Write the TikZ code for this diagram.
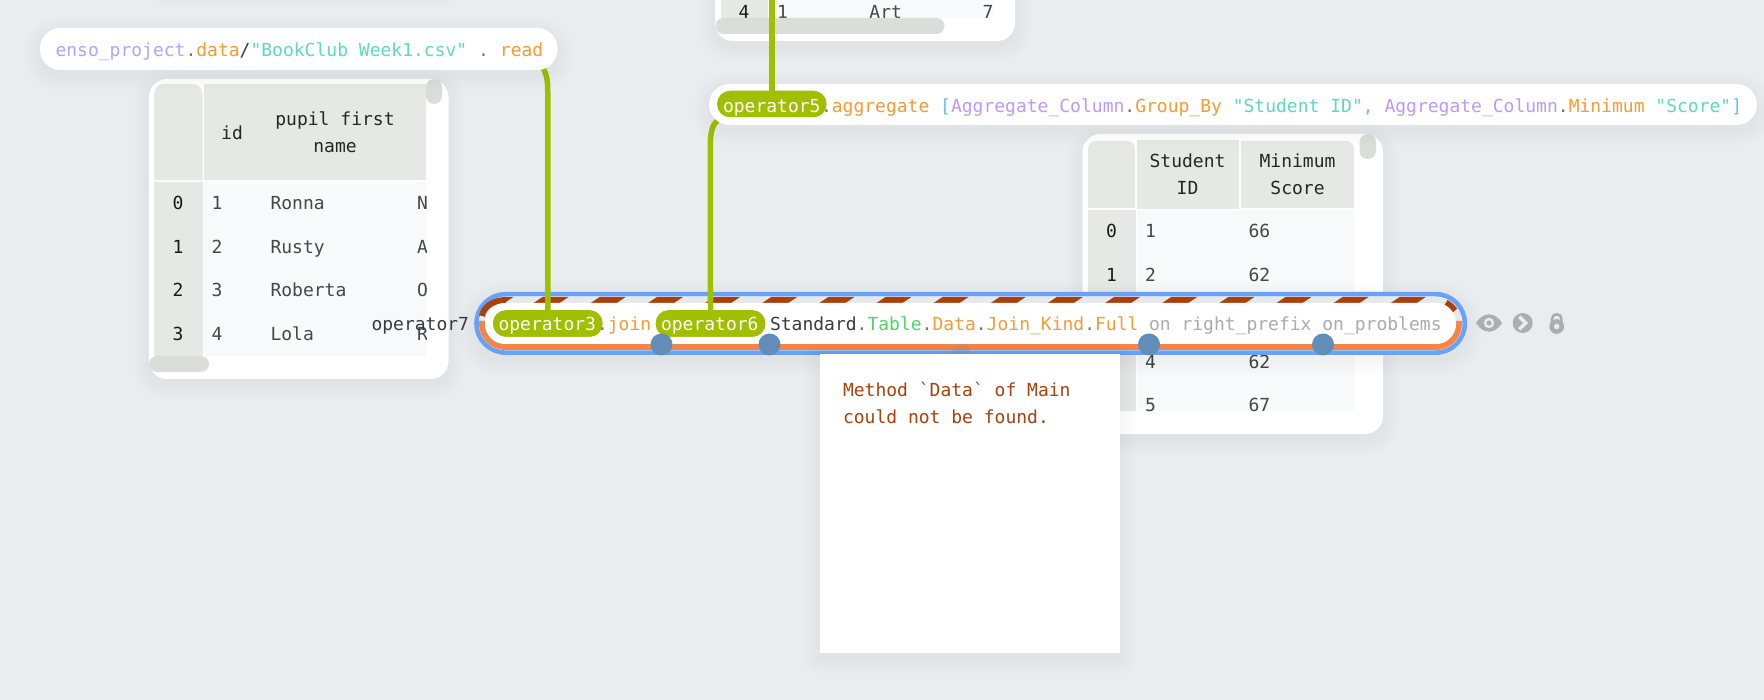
\documentclass[tikz,border=0pt]{standalone}
\usepackage{fontspec}
\newfontfamily\codefont{DejaVu Sans Mono}
\definecolor{bgc}{HTML}{EAEDF0}
\definecolor{greenw}{HTML}{A0BF00}
\definecolor{lav}{HTML}{A6A9FF}
\definecolor{orng}{HTML}{F89A35}
\definecolor{strc}{HTML}{5CD9C0}
\definecolor{dotc}{HTML}{777777}
\definecolor{purp}{HTML}{BB99FF}
\definecolor{brack}{HTML}{5CC5F0}
\definecolor{tabg}{HTML}{4FD665}
\definecolor{dkc}{HTML}{3A3A45}
\definecolor{argc}{HTML}{ABABAB}
\definecolor{hdr}{HTML}{E6E8E6}
\definecolor{bodyc}{HTML}{F7F9FA}
\definecolor{scrl}{HTML}{DBDDDB}
\definecolor{bluer}{HTML}{68A1F6}
\definecolor{orgr}{HTML}{F58447}
\definecolor{brn}{HTML}{AB400C}
\definecolor{rimc}{HTML}{E6E8EA}
\definecolor{port}{HTML}{628DB9}
\definecolor{icon}{HTML}{ABADAE}
\newcommand{\softshadow}[5]{%
  \foreach \i in {1,...,9}{%
    \fill[black,opacity=.0045,rounded corners={#5+\i*1.5}]
      ({#1-\i*1.8},{#2-\i*1.8+5}) rectangle ({#3+\i*1.8},{#4+\i*1.8+5});
  }}
\tikzset{
  x=1pt,y=-1pt,
  codetext/.style={inner sep=0pt,outer sep=0pt,font=\codefont\fontsize{18}{27}\selectfont},
  lab/.style={codetext,anchor=base west},
  cen/.style={codetext,anchor=base},
  body/.style={text=black!72},
  ind/.style={text=black!90},
  hd/.style={text=black!85,align=center},
  pill/.style={fill=white,rounded corners=20.5pt,inner sep=0pt,outer sep=0pt},
  oppill/.style={fill=greenw,rounded corners=13pt,inner sep=0pt,outer sep=0pt,minimum height=26.5pt,minimum width=109.5pt},
  wire/.style={draw=greenw,line width=5.5pt},
  portdot/.style={circle,fill=port,inner sep=0pt,minimum size=22pt},
}
\begin{document}
\begin{tikzpicture}
\useasboundingbox (0,0) rectangle (1764,700);
\fill[bgc] (0,0) rectangle (1764,700);
% shadow of the table above the frame
\softshadow{160}{-50}{448}{-12}{16}

% top table
\softshadow{715}{-50}{1015}{41}{18}
\fill[white,rounded corners=18pt] (715,-40) rectangle (1015,41);
\fill[hdr] (720.5,-5) rectangle (768,18);
\fill[bodyc] (770,-5) rectangle (992.7,18);
\begin{scope}
\clip (715,-5) rectangle (993,18);
\node[cen,ind] (t3i) at (744,18.3) {4};
\node[cen,body] (t3a) at (782.5,18.3) {1};
\node[cen,body] (t3b) at (885.7,18.3) {Art};
\node[cen,body] (t3c) at (988,18.3) {7};
\end{scope}
\fill[scrl,rounded corners=8pt] (715.5,18) rectangle (944.5,34);

% left table
\softshadow{149}{79}{448.5}{379}{18}
\fill[white,rounded corners=18pt] (149,79) rectangle (448.5,379);
\fill[hdr] (154,180.5) [rounded corners=10pt] -- (154,84) -- (202.5,84) [sharp corners] -- (202.5,180.5) -- cycle;
\fill[hdr] (204,84) rectangle (426,180.5);
\fill[hdr] (154,182) rectangle (203,356);
\fill[bodyc] (204,182) rectangle (426,356);
\node[cen,hd] (t1h1) at (232,139.5) {id};
\node[cen,hd] (t1h2) at (335,126) {pupil first};
\node[cen,hd] (t1h3) at (335,153) {name};
\node[cen,ind] (t1i0) at (178,210) {0};
\node[cen,ind] (t1i1) at (178,254) {1};
\node[cen,ind] (t1i2) at (178,297) {2};
\node[cen,ind] (t1i3) at (178,341) {3};
\node[lab,body] (t1a0) at (211.5,210) {1};
\node[lab,body] (t1a1) at (211.5,254) {2};
\node[lab,body] (t1a2) at (211.5,297) {3};
\node[lab,body] (t1a3) at (211.5,341) {4};
\node[lab,body] (t1b0) at (270.5,210) {Ronna};
\node[lab,body] (t1b1) at (270.5,254) {Rusty};
\node[lab,body] (t1b2) at (270.5,297) {Roberta};
\node[lab,body] (t1b3) at (270.5,341) {Lola};
\begin{scope}
\clip (204,182) rectangle (426,356);
\node[lab,body] (t1c0) at (417,210) {N};
\node[lab,body] (t1c1) at (417,254) {A};
\node[lab,body] (t1c2) at (417,297) {O};
\node[lab,body] (t1c3) at (417,341) {R};
\end{scope}
\fill[scrl,rounded corners=8pt] (426,79) rectangle (442,104);
\fill[scrl,rounded corners=8pt] (149,356) rectangle (209,372);

% right table
\softshadow{1082.5}{134}{1383}{434}{18}
\fill[white,rounded corners=18pt] (1082.5,134) rectangle (1383,434);
\fill[hdr] (1088,208) [rounded corners=8pt] -- (1088,141) -- (1135,141) [sharp corners] -- (1135,208) -- cycle;
\fill[hdr] (1137,140) rectangle (1239,209);
\fill[hdr] (1241,208) [sharp corners] -- (1241,141) [rounded corners=8pt] -- (1354,141) [sharp corners] -- (1354,208) -- cycle;
\fill[hdr] (1088,210) rectangle (1136,411);
\fill[bodyc] (1137,210) rectangle (1354,411);
\node[cen,hd] (t2h1) at (1187.5,167.5) {Student};
\node[cen,hd] (t2h2) at (1187.5,194.5) {ID};
\node[cen,hd] (t2h3) at (1297.5,167.5) {Minimum};
\node[cen,hd] (t2h4) at (1297.5,194.5) {Score};
\node[cen,ind] (t2i0) at (1111.5,238) {0};
\node[cen,ind] (t2i1) at (1111.5,281.5) {1};
\node[lab,body] (t2a0) at (1145,238) {1};
\node[lab,body] (t2a1) at (1145,281.5) {2};
\node[lab,body] (t2b0) at (1248.5,238) {66};
\node[lab,body] (t2b1) at (1248.5,281.5) {62};
\node[lab,body] (t2a4) at (1145,368.5) {4};
\node[lab,body] (t2b4) at (1248.5,368.5) {62};
\begin{scope}
\clip (1137,210) rectangle (1354,411);
\node[lab,body] (t2a5) at (1145,411.5) {5};
\node[lab,body] (t2b5) at (1248.5,411.5) {67};
\end{scope}
\fill[scrl,rounded corners=8pt] (1359.5,134) rectangle (1376,159);

% selected node frame
\softshadow{474}{292}{1467}{355}{30}
\fill[white,rounded corners=29pt] (476.5,294) rectangle (1464.8,352.5);
\draw[bluer,line width=4.6pt,rounded corners=29pt] (476.5,294.2) rectangle (1464.8,352.6);
\draw[rimc,line width=6pt,rounded corners=23.5pt] (482,300) rectangle (1459,347);
\draw[orgr,line width=6pt,rounded corners=23.5pt] (482,321) -- (482,347) -- (1459,347) -- (1459,321);
\foreach \k in {0,...,15}{
  \fill[brn] ({533.6+57.14*\k},303) -- ({559.6+57.14*\k},303) -- ({568.6+57.14*\k},297) -- ({542.6+57.14*\k},297) -- cycle;
}
\draw[brn,line width=6pt] (482,316) .. controls (483.5,307) and (493,300) .. (506,300);
\fill[brn] (505,297) -- (513.5,297) -- (504,303) -- cycle;
\draw[brn,line width=6pt] (1446,302.6) .. controls (1449,304) and (1452,307) .. (1455,310.5);
\fill[white,rounded corners=20pt] (485,303) rectangle (1456,344);

% coordinates of free wire ends, nodes that the wires join
\node[oppill] (opthree) at (547.75,323.5) {};
\node[oppill] (opsix) at (710.5,323.5) {};
\node[oppill] (opfive) at (771.8,104) {};
\coordinate (csvout) at (543.5,69);
\coordinate (aggout) at (718,120);
\coordinate (topin) at (771.8,-5);

% wires under the pills
\draw[wire] (csvout) .. controls (546.5,74) and (547.75,80) .. (547.75,92) -- (opthree.north);
\draw[wire] (aggout) .. controls (712.5,124) and (710.3,132) .. (710.3,146) -- (opsix.north);

% pills
\softshadow{40}{28}{557.5}{70}{20}
\softshadow{709}{84}{1757}{125}{20}
\node[pill,minimum width=517.5pt,minimum height=42pt] (csv) at (298.75,49) {};
\node[pill,minimum width=1048pt,minimum height=41pt] (agg) at (1233,104.5) {};
\draw[wire] (topin) -- (opfive.north);

% operator pills
\node[oppill] at (opthree) {};
\node[oppill] at (opsix) {};
\node[oppill] at (opfive) {};

% code text
\node[lab] (csvtext) at (55.5,57) {\textcolor{lav}{enso\_project}\textcolor{dotc}{.}\textcolor{orng}{data}\textcolor{dkc}{/}\textcolor{strc}{"BookClub Week1.csv"} \textcolor{dotc}{.} \hspace{-3.5pt}\textcolor{orng}{read}};
\node[lab,text=white] (op5text) at (723,112.3) {operator5};
\node[lab] (aggtext) at (821,112.3) {\textcolor{dotc}{.}\textcolor{orng}{aggregate} \textcolor{brack}{[}\textcolor{purp}{Aggregate\_Column}\textcolor{dotc}{.}\textcolor{orng}{Group\_By} \textcolor{strc}{"Student ID"}\textcolor{brack}{,} \textcolor{purp}{Aggregate\_Column}\textcolor{dotc}{.}\textcolor{orng}{Minimum} \textcolor{strc}{"Score"}\textcolor{brack}{]}};
\node[lab,text=dkc] (opseven) at (371.5,330.7) {operator7};
\node[lab,text=white] (op3text) at (498.5,330.7) {operator3};
\node[lab,text=white] (op6text) at (661,330.7) {operator6};
\node[lab] (jointext) at (597,330.7) {\textcolor{dotc}{.}\textcolor{orng}{join}};
\node[lab] (stdtext) at (770,330.7) {\textcolor{dkc}{Standard}\textcolor{dotc}{.}\textcolor{tabg}{Table}\textcolor{dotc}{.}\textcolor{orng}{Data}\textcolor{dotc}{.}\textcolor{orng}{Join\_Kind}\textcolor{dotc}{.}\textcolor{orng}{Full}};
\node[lab,text=argc] (argtext) at (1149,330.7) {on right\_prefix on\_problems};

% ports
\node[portdot] (p1) at (661.5,344.5) {};
\node[portdot] (p2) at (769.5,344.5) {};
\node[portdot] (p3) at (1149,344.5) {};
\node[portdot] (p4) at (1323,344.5) {};
\node[circle,fill=black!45,opacity=.3,inner sep=0pt,minimum size=22pt] (p5) at (960.7,356) {};

% error popup
\softshadow{820}{354}{1120}{653}{1}
\fill[white] (820,354) rectangle (1120,653);
\node[lab,text=brn] (errone) at (843,396) {Method `Data` of Main};
\node[lab,text=brn] (errtwo) at (843,423) {could not be found.};

% icons
\fill[icon] (1476,323) .. controls (1483,311.5) and (1495,311.5) .. (1502,323) .. controls (1495,334.5) and (1483,334.5) .. (1476,323) -- cycle;
\fill[bgc] (1489,323) circle[radius=5.2];
\fill[icon] (1489,323) circle[radius=2.6];
\fill[icon] (1522.7,323) circle[radius=10];
\draw[bgc,line width=3.4pt] (1519.2,316.7) -- (1525.7,323) -- (1519.2,329.3);
\fill[icon] (1556.7,326.5) circle[radius=7.4];
\fill[bgc] (1556.7,326.5) circle[radius=2.7];
\draw[icon,line width=2.6pt,rounded corners=4.5pt] (1552,323) -- (1552,314.3) -- (1561.4,314.3) -- (1561.4,323);
\end{tikzpicture}
\end{document}
